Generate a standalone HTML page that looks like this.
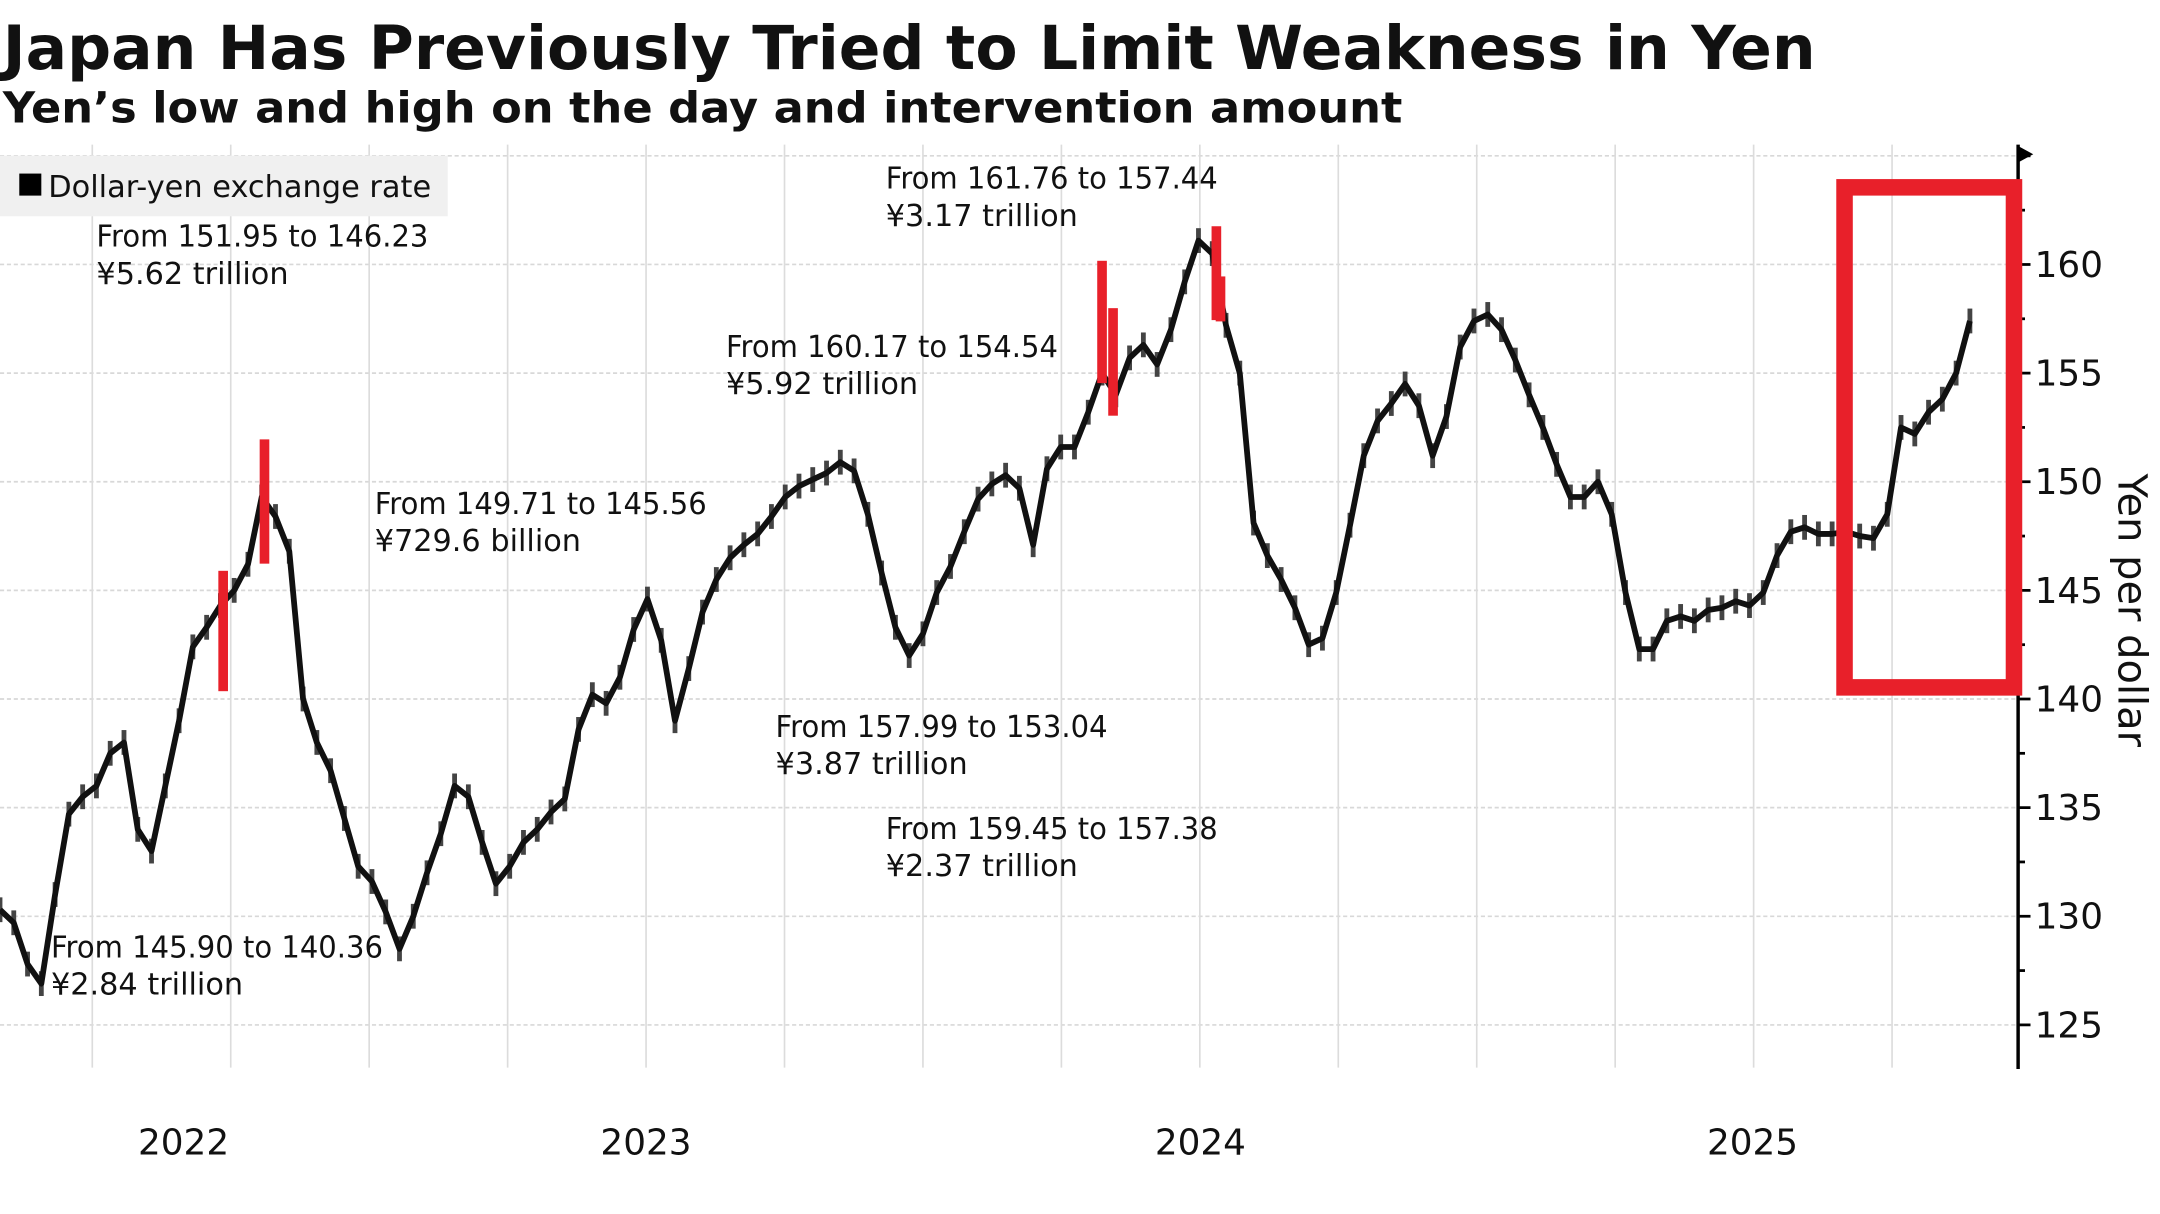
<!DOCTYPE html>
<html><head><meta charset="utf-8"><style>
html,body{margin:0;padding:0;background:#fff;}
svg{display:block;}
text{font-family:"DejaVu Sans","Liberation Sans",sans-serif;fill:#111;}
</style></head><body>
<svg id="chart" width="2160" height="1214" viewBox="0 0 1568 881.3" preserveAspectRatio="none" xmlns="http://www.w3.org/2000/svg">
<text x="2" y="50" font-size="44" font-weight="bold" textLength="1316" lengthAdjust="spacingAndGlyphs">Japan Has Previously Tried to Limit Weakness in Yen</text>
<text x="2" y="89" font-size="31" font-weight="bold" textLength="1016" lengthAdjust="spacingAndGlyphs">Yen’s low and high on the day and intervention amount</text>
<g id="grid"></g>
<g id="axis"></g>
<g id="series"></g>
<g id="interv"></g>
<g>
<rect x="0" y="113" width="325" height="44" fill="#f0f0f0"/>
<rect x="14" y="126" width="16" height="16" fill="#000"/>
<text x="35" y="143" font-size="22" textLength="278" lengthAdjust="spacingAndGlyphs">Dollar-yen exchange rate</text>
</g>
<g id="ann"></g>
<rect x="1339" y="136" width="123" height="363" fill="none" stroke="#e8202a" stroke-width="12"/>
<g id="xlabels"></g>
<text transform="translate(1538,443) rotate(90)" text-anchor="middle" font-size="29">Yen per dollar</text>
</svg>
<script>
const values=[130.3,129.7,127.8,126.9,131,134.7,135.5,136,137.5,138,134,133,136,139,142.4,143.3,144.3,145,146.2,149.3,148.4,146.8,140,138,136.7,134.5,132.3,131.6,130.2,128.5,130,132,133.8,136,135.5,133.4,131.5,132.3,133.4,134,134.8,135.4,138.6,140.2,139.8,141,143.2,144.6,142.7,139,141.4,144,145.5,146.5,147.1,147.6,148.4,149.3,149.8,150.1,150.4,150.9,150.5,148.5,145.8,143.3,142,143,144.9,146.1,147.7,149.2,149.9,150.3,149.7,147.1,150.6,151.6,151.6,153.2,155,154,155.7,156.3,155.4,157,159.2,161.1,160.5,157.2,155,148.1,146.6,145.5,144.2,142.5,142.8,144.9,148,151.2,152.8,153.6,154.5,153.5,151.2,153,156.2,157.4,157.7,157,155.6,154,152.5,150.8,149.3,149.3,150,148.5,144.9,142.3,142.3,143.6,143.8,143.6,144.1,144.2,144.5,144.3,144.9,146.6,147.7,147.9,147.6,147.6,147.7,147.5,147.4,148.5,152.5,152.2,153.2,153.8,155,157.4];
const intervIndex=[16.2,19.2,80,80.8,88.3,88.6];
const intervHigh=[145.90,151.95,160.17,157.99,161.76,159.45];
const intervLow=[140.36,146.23,154.54,153.04,157.44,157.38];
const annLines1=["From 145.90 to 140.36","From 151.95 to 146.23","From 149.71 to 145.56","From 160.17 to 154.54","From 157.99 to 153.04","From 161.76 to 157.44","From 159.45 to 157.38"];
const annLines2=["¥2.84 trillion","¥5.62 trillion","¥729.6 billion","¥5.92 trillion","¥3.87 trillion","¥3.17 trillion","¥2.37 trillion"];
const yTicks=[125,130,135,140,145,150,155,160];
const yearLabels=["2022","2023","2024","2025"];
const yearPos=[7.9,17.95,30,42];
const NS="http://www.w3.org/2000/svg";
function el(t,a,p){const e=document.createElementNS(NS,t);for(const k in a)e.setAttribute(k,a[k]);p.appendChild(e);return e;}
const y=v=>192+(160-v)*15.772;
const xi=i=>i*10;
const xm=t=>-130.6+33.4*t;
const grid=document.getElementById('grid');
for(let v=125;v<=165;v+=5){const l=el('line',{x1:0,x2:1465,y1:y(v),y2:y(v),stroke:'#d8d8d8','stroke-width':1.2,'stroke-dasharray':'3 2'},grid);}
for(let q=0;q<14;q++){const gx=67+q*100.5;const l=el('line',{x1:gx,x2:gx,y1:105,y2:775,stroke:'#dcdcdc','stroke-width':1.2},grid);}
const ax=document.getElementById('axis');
el('line',{x1:1465,x2:1465,y1:105,y2:776,stroke:'#000','stroke-width':2.5},ax);
el('path',{d:'M1465,106 L1476,112 L1465,118 Z',fill:'#000'},ax);
for(let v=125;v<=165;v+=2.5){const major=v%5===0;el('line',{x1:1465,x2:major?1474:1470,y1:y(v),y2:y(v),stroke:'#000','stroke-width':2},ax);}
yTicks.forEach(v=>{const t=el('text',{x:1477,y:y(v)+9,'font-size':26},ax);t.textContent=v;});
const s=document.getElementById('series');
values.forEach((v,i)=>{const b=el('line',{x1:xi(i),x2:xi(i),y1:y(v)+9,y2:y(v)-9,stroke:'#444','stroke-width':3.5},s);});
const pts=values.map((v,i)=>xi(i)+','+y(v).toFixed(1)).join(' ');
const pl=el('polyline',{points:pts,fill:'none',stroke:'#111','stroke-width':4.2,'stroke-linejoin':'round'},s);


const iv=document.getElementById('interv');
intervIndex.forEach((ix,k)=>{const r=el('rect',{x:xi(ix)-3.5,y:y(intervHigh[k]),width:7,height:y(intervLow[k])-y(intervHigh[k]),fill:'#e8202a'},iv);});
const annPos=[[37,695],[70,179],[272,373],[527,259],[563,535],[643,137],[643,609]];
const ann=document.getElementById('ann');
annLines1.forEach((t,k)=>{const a=el('text',{x:annPos[k][0],y:annPos[k][1],'font-size':22,textLength:241,lengthAdjust:'spacingAndGlyphs'},ann);a.textContent=t;
const b=el('text',{x:annPos[k][0],y:annPos[k][1]+27,'font-size':22},ann);b.textContent=annLines2[k];});
const xl=document.getElementById('xlabels');
yearLabels.forEach((t,k)=>{const a=el('text',{x:xm(yearPos[k]),y:838,'font-size':26,'text-anchor':'middle'},xl);a.textContent=t;});
</script>
</body></html>
